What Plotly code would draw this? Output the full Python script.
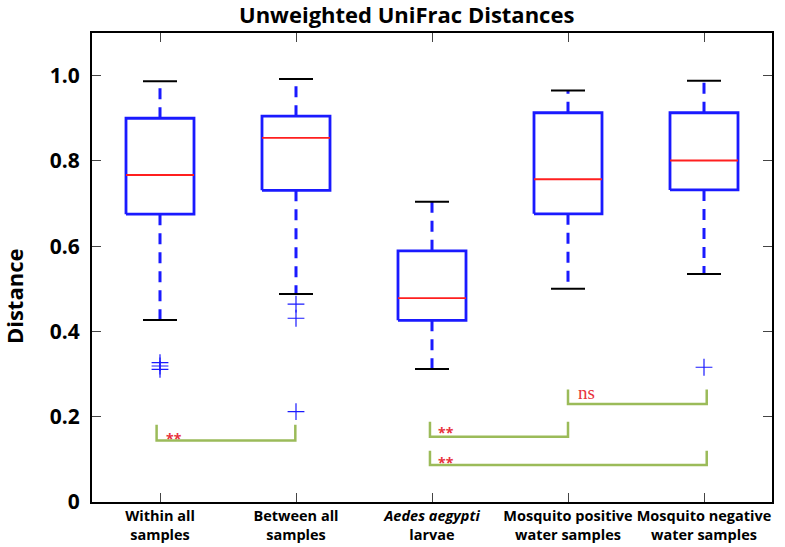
import plotly.graph_objects as go

# ---- data ----
categories = [
    "<b>Within all</b><br><b>samples</b>",
    "<b>Between all</b><br><b>samples</b>",
    "<b><i>Aedes aegypti</i></b><br><b>larvae</b>",
    "<b>Mosquito positive</b><br><b>water samples</b>",
    "<b>Mosquito negative</b><br><b>water samples</b>",
]
positions = [1, 2, 3, 4, 5]
q1 = [0.675, 0.731, 0.426, 0.676, 0.732]
median = [0.767, 0.854, 0.478, 0.757, 0.801]
q3 = [0.900, 0.905, 0.589, 0.913, 0.913]
lower_whisker = [0.427, 0.488, 0.312, 0.500, 0.535]
upper_whisker = [0.987, 0.992, 0.704, 0.965, 0.988]
outliers = [[0.327, 0.319, 0.311], [0.464, 0.431, 0.212], [], [], [0.316]]

# significance brackets
bracket_x0 = [0.975, 2.985, 2.985, 4.0]
bracket_x1 = [1.995, 4.0, 5.02, 5.02]
bracket_top = [0.181, 0.188, 0.120, 0.264]
bracket_bottom = [0.144, 0.153, 0.087, 0.230]
bracket_label = ["**", "**", "**", "ns"]
label_x = [1.03, 3.03, 3.03, 4.06]
label_y = [0.150, 0.162, 0.092, 0.258]

y_ticks = [0, 0.2, 0.4, 0.6, 0.8, 1.0]
y_ticktext = ["0", "0.2", "0.4", "0.6", "0.8", "1.0"]

BOX_W = 0.25   # half width of box
CAP_W = 0.125  # half width of whisker cap
BLUE = "#1a1aff"
RED = "#ff1f1f"
GREEN = "#9bbb59"
STAR_RED = "#e8313c"

fig = go.Figure()

# whiskers (dashed blue)
wx, wy = [], []
for p, a, b, lo, hi in zip(positions, q1, q3, lower_whisker, upper_whisker):
    wx += [p, p, None, p, p, None]
    wy += [b, hi, None, a, lo, None]
fig.add_trace(go.Scatter(x=wx, y=wy, mode="lines",
                         line=dict(color=BLUE, width=3, dash="11px,8px"),
                         hoverinfo="skip", showlegend=False))

# caps (black)
cx, cy = [], []
for p, lo, hi in zip(positions, lower_whisker, upper_whisker):
    cx += [p - CAP_W, p + CAP_W, None, p - CAP_W, p + CAP_W, None]
    cy += [hi, hi, None, lo, lo, None]
fig.add_trace(go.Scatter(x=cx, y=cy, mode="lines",
                         line=dict(color="black", width=2),
                         hoverinfo="skip", showlegend=False))

# boxes (blue)
bx, by = [], []
for p, a, b in zip(positions, q1, q3):
    bx += [p - BOX_W, p + BOX_W, p + BOX_W, p - BOX_W, p - BOX_W, None]
    by += [a, a, b, b, a, None]
fig.add_trace(go.Scatter(x=bx, y=by, mode="lines",
                         line=dict(color=BLUE, width=2.8),
                         hoverinfo="skip", showlegend=False))

# medians (red)
mx, my = [], []
for p, m in zip(positions, median):
    mx += [p - BOX_W, p + BOX_W, None]
    my += [m, m, None]
fig.add_trace(go.Scatter(x=mx, y=my, mode="lines",
                         line=dict(color=RED, width=1.8),
                         hoverinfo="skip", showlegend=False))

# outliers
ox, oy = [], []
for p, outs in zip(positions, outliers):
    for v in outs:
        ox.append(p)
        oy.append(v)
fig.add_trace(go.Scatter(x=ox, y=oy, mode="markers",
                         marker=dict(symbol="cross-thin", size=12,
                                     line=dict(color=BLUE, width=1.2)),
                         hoverinfo="skip", showlegend=False))

# brackets
for x0, x1, yt, yb in zip(bracket_x0, bracket_x1, bracket_top, bracket_bottom):
    fig.add_trace(go.Scatter(x=[x0, x0, x1, x1], y=[yt, yb, yb, yt], mode="lines",
                             line=dict(color=GREEN, width=2.5),
                             hoverinfo="skip", showlegend=False))

for lab, lx, ly in zip(bracket_label, label_x, label_y):
    if lab == "ns":
        font = dict(family="Liberation Serif", size=19, color=STAR_RED)
    else:
        font = dict(family="Open Sans", size=14, color=STAR_RED, weight="bold")
    fig.add_annotation(x=lx, y=ly, text=lab, showarrow=False,
                       xanchor="left", yanchor="middle", font=font)

# title as annotation (fixed position)
fig.add_annotation(text="<b>Unweighted UniFrac Distances</b>", xref="paper", yref="paper",
                   x=0.462, y=1.0405, xanchor="center", yanchor="middle",
                   showarrow=False,
                   font=dict(family="Open Sans", size=22, color="black"))

# y-axis title as annotation (fixed position)
fig.add_annotation(text="<b>Distance</b>", xref="paper", yref="paper",
                   x=-0.1155, y=0.44, xanchor="center", yanchor="middle",
                   textangle=-90, showarrow=False,
                   font=dict(family="Open Sans", size=22, color="black"))

fig.update_layout(
    width=785, height=547,
    margin=dict(l=92, r=13, t=33, b=45, autoexpand=False),
    plot_bgcolor="white", paper_bgcolor="white",
    font=dict(family="Open Sans", color="black"),
)
fig.update_xaxes(range=[0.5, 5.5], tickvals=positions, ticktext=categories,
                 tickfont=dict(family="Open Sans", size=14.5, color="black"),
                 showline=True, linecolor="black", linewidth=2, mirror="allticks",
                 ticks="inside", ticklen=9, tickcolor="#444", tickwidth=1,
                 showgrid=False, zeroline=False, fixedrange=True)
fig.update_yaxes(range=[0, 1.1], tickvals=y_ticks, ticktext=y_ticktext,
                 tickfont=dict(family="Open Sans", size=21, color="black", weight="bold"),
                 showline=True, linecolor="black", linewidth=2, mirror="allticks",
                 ticks="inside", ticklen=9, tickcolor="#444", tickwidth=1,
                 ticklabelstandoff=6,
                 showgrid=False, zeroline=False, fixedrange=True)

fig.write_html("out.html", config={"displayModeBar": False},
               post_script="document.body.style.margin='0px';document.body.style.overflow='hidden';")
